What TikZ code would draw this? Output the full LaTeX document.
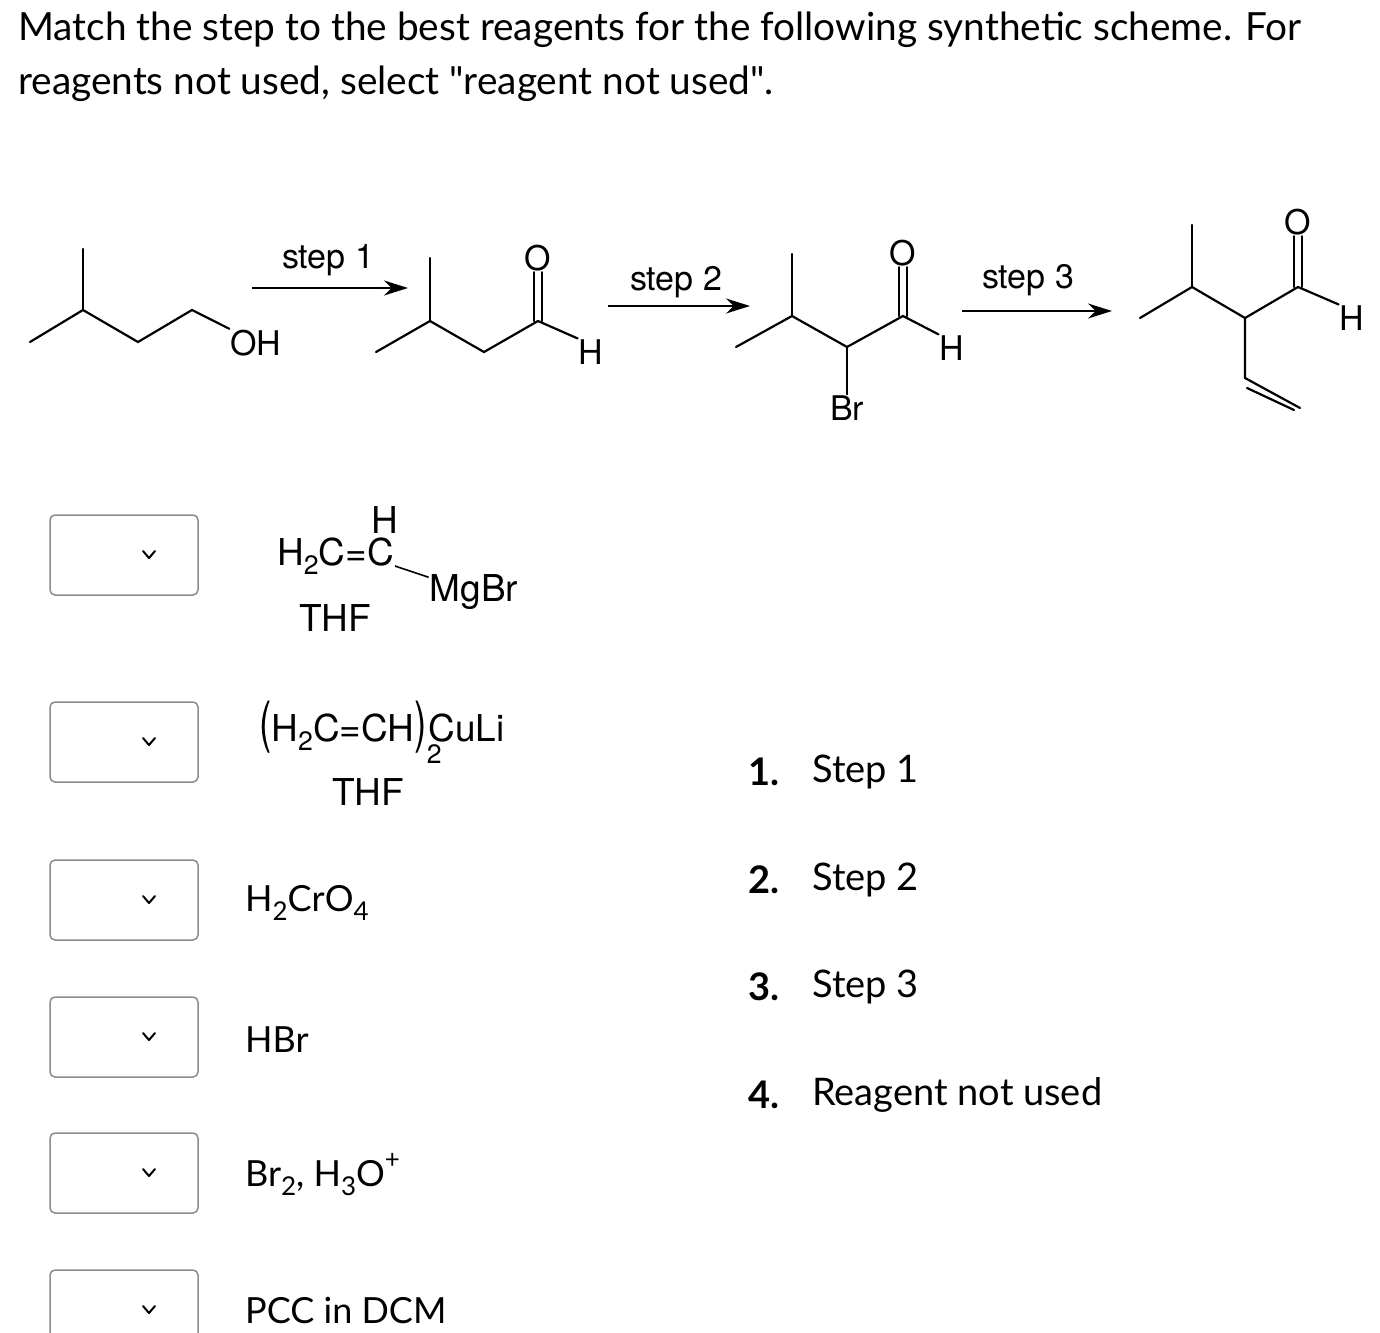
\documentclass[tikz,border=0pt]{standalone}
\usepackage{fontspec}
\setmainfont{Lato}
\newfontfamily\hv{TeX Gyre Heros}
\usetikzlibrary{arrows.meta,calc}
\newcommand{\dn}[1]{\raisebox{-0.25em}{\scalebox{0.72}{#1}}}
\newcommand{\upp}[1]{\raisebox{0.5em}{\scalebox{0.72}{#1}}}
\tikzset{
 bond/.style={line width=2.2pt,line cap=round},
 lbl/.style={font=\hv\fontsize{34}{36}\selectfont,inner sep=1pt},
 rg/.style={font=\hv\fontsize{37}{40}\selectfont,inner sep=1pt},
 rxn/.style={line width=2pt,-{Stealth[length=24pt,width=15pt]}},
 txt/.style={font=\fontsize{36}{40}\selectfont,anchor=west,inner sep=0pt},
 drop/.style={draw=black!45,line width=1.5pt,rounded corners=5pt,minimum width=148pt,minimum height=80pt},
 chev/.style={line width=2pt,line cap=round,line join=round},
 num/.style={font=\bfseries\fontsize{38}{40}\selectfont,anchor=west,inner sep=0pt},
 ltxt/.style={font=\fontsize{38}{40}\selectfont,anchor=west,inner sep=0pt}
}
\begin{document}
\begin{tikzpicture}[x=1pt,y=-1pt]
\useasboundingbox (0,0) rectangle (1380,1332);
\node[anchor=north west,align=left,font=\fontsize{38.8}{54}\selectfont,inner sep=0pt] (title) at (18,12)
 {Match the step to the best reagents for the following synthetic scheme. For\\reagents not used, select \textquotedbl reagent not used\textquotedbl.};
% molecule 1
\coordinate (a1) at (30,342); \coordinate (a2) at (83,310); \coordinate (a3) at (83,249);
\coordinate (a4) at (138,342); \coordinate (a5) at (192,310);
\node[lbl] (oh) at (256,343) {OH};
\draw[bond] (a1)--(a2)--(a4)--(a5)--(oh.north west); \draw[bond] (a2)--(a3);
% arrow 1
\coordinate (s1) at (252,288); \coordinate (e1) at (408,288);
\draw[rxn] (s1)--(e1); \node[lbl] (t1) at (328,260) {step 1};
% molecule 2
\coordinate (b1) at (376,352); \coordinate (b2) at (430,321); \coordinate (b3) at (430,258);
\coordinate (b4) at (484,352); \coordinate (b5) at (538,321);
\node[lbl] (o2) at (538,258) {O}; \node[lbl] (h2) at (591,352) {H};
\draw[bond] (b1)--(b2)--(b4)--(b5)--(h2.north west); \draw[bond] (b2)--(b3);
\draw[bond] ([xshift=-4pt]b5)--([xshift=-4pt]o2.south); \draw[bond] ([xshift=4pt]b5)--([xshift=4pt]o2.south);
% arrow 2
\coordinate (s2) at (608,306); \coordinate (e2) at (750,306);
\draw[rxn] (s2)--(e2); \node[lbl] (t2) at (676,282) {step 2};
% molecule 3
\coordinate (c1) at (736,347); \coordinate (c2) at (792,316); \coordinate (c3) at (792,254);
\coordinate (c4) at (847,347); \coordinate (c5) at (903,316);
\node[lbl] (br) at (847,408) {Br}; \node[lbl] (o3) at (903,253) {O}; \node[lbl] (h3) at (952,348) {H};
\draw[bond] (c1)--(c2)--(c4)--(c5)--(h3.north west); \draw[bond] (c2)--(c3); \draw[bond] (c4)--(br.north);
\draw[bond] ([xshift=-4pt]c5)--([xshift=-4pt]o3.south); \draw[bond] ([xshift=4pt]c5)--([xshift=4pt]o3.south);
% arrow 3
\coordinate (s3) at (962,311); \coordinate (e3) at (1112,311);
\draw[rxn] (s3)--(e3); \node[lbl] (t3) at (1028,280) {step 3};
% molecule 4
\coordinate (d1) at (1140,318); \coordinate (d2) at (1192,287); \coordinate (d3) at (1192,225);
\coordinate (d4) at (1245,318); \coordinate (d5) at (1245,378); \coordinate (d6) at (1300,408);
\coordinate (d7) at (1298,287);
\node[lbl] (o4) at (1298,222) {O}; \node[lbl] (h4) at (1352,318) {H};
\draw[bond] (d1)--(d2)--(d4)--(d7)--(h4.north west); \draw[bond] (d2)--(d3);
\draw[bond] (d4)--(d5)--(d6); \draw[bond] ($(d5)+(2,10)$)--($(d6)+(-6,2)$);
\draw[bond] ([xshift=-4pt]d7)--([xshift=-4pt]o4.south); \draw[bond] ([xshift=4pt]d7)--([xshift=4pt]o4.south);
% dropdowns
\foreach \i/\y in {1/555,2/742,3/900,4/1037,5/1173,6/1310}{
 \node[drop] (dd\i) at (124,\y) {};
 \draw[chev] ($(dd\i.center)+(19,-4)$)--($(dd\i.center)+(25,3)$)--($(dd\i.center)+(31,-4)$);
}
% reagents
\node[rg,anchor=east] (r1a) at (395,556) {H\dn{2}C{=}C};
\node[rg] (r1h) at (385,520) {H};
\node[rg] (r1m) at (474,592) {MgBr};
\coordinate (g1) at (395,566);
\draw[line width=1.6pt] (g1) -- ($(r1m.north west)+(0,4)$);
\node[rg] (r1t) at (335,618) {THF};
\node[rg,anchor=west] (r2a) at (258,732) {\scalebox{1}[1.5]{(}H\dn{2}C{=}CH\scalebox{1}[1.5]{)}\raisebox{-0.6em}{\scalebox{0.72}{2}}\hspace{-0.35em}CuLi};
\node[rg] (r2t) at (368,792) {THF};
\node[txt] (r3) at (245,903) {H\dn{2}CrO\dn{4}};
\node[txt] (r4) at (245,1040) {HBr};
\node[txt] (r5) at (245,1175) {Br\dn{2}, H\dn{3}O\upp{+}};
\node[txt] (r6) at (245,1310) {PCC in DCM};
% list
\node[num] (n1) at (748,772) {1.}; \node[ltxt] (l1) at (812,772) {Step 1};
\node[num] (n2) at (748,880) {2.}; \node[ltxt] (l2) at (812,880) {Step 2};
\node[num] (n3) at (748,987) {3.}; \node[ltxt] (l3) at (812,987) {Step 3};
\node[num] (n4) at (748,1095) {4.}; \node[ltxt] (l4) at (812,1095) {Reagent not used};
\end{tikzpicture}
\end{document}
